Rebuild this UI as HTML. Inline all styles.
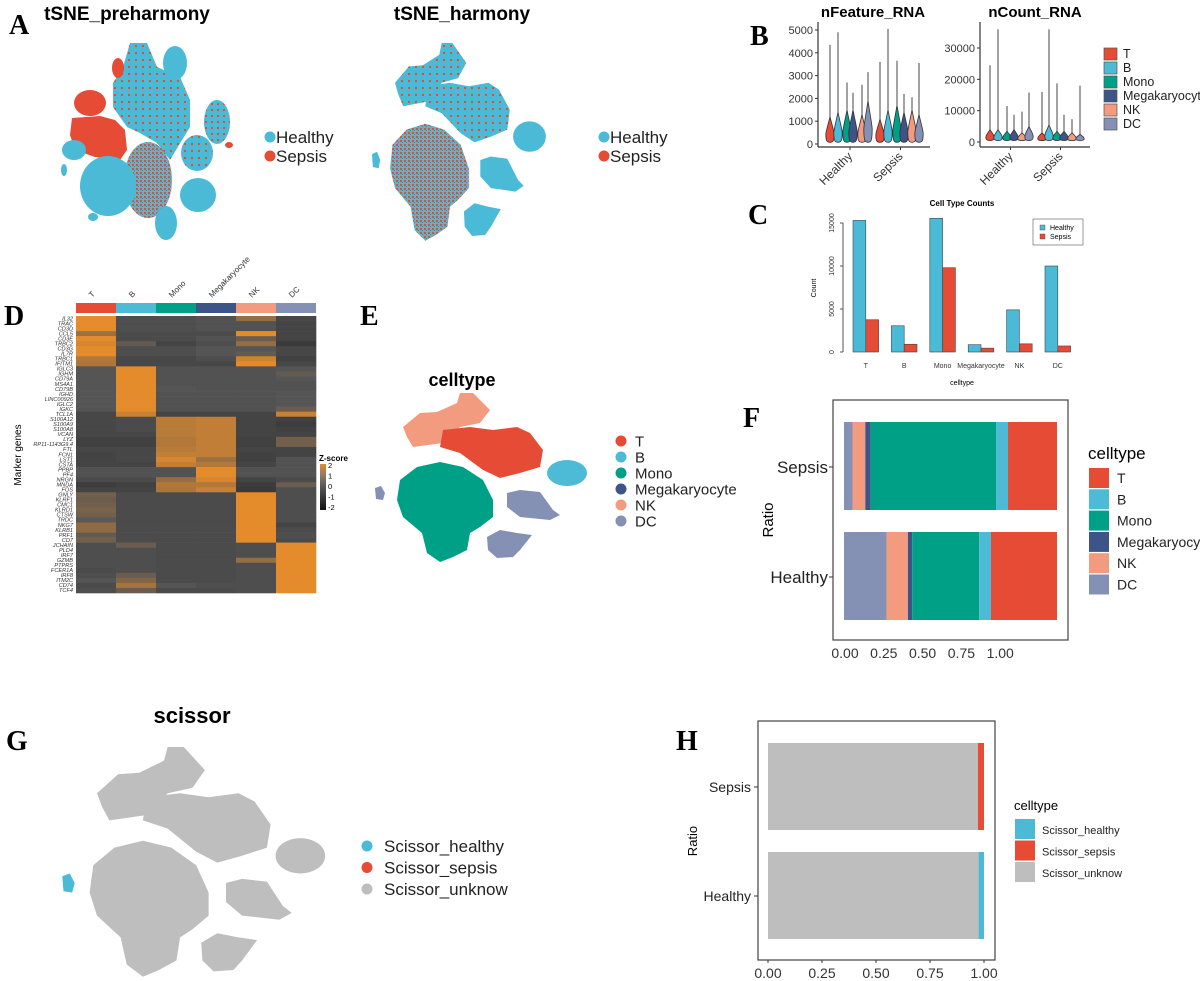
<!DOCTYPE html>
<html><head><meta charset="utf-8">
<style>
html,body{margin:0;padding:0;background:#fff;}
svg{display:block;font-family:"Liberation Sans",Arial,sans-serif;}
.let{font-family:"Liberation Serif",serif;font-weight:bold;font-size:28px;fill:#000;}
</style></head>
<body>
<svg id="fig" width="1200" height="981" viewBox="0 0 1200 981" xmlns="http://www.w3.org/2000/svg">
<defs>
<pattern id="mixA" width="6" height="6" patternUnits="userSpaceOnUse"><rect width="6" height="6" fill="#4bbad6"/><rect x="1" y="1" width="2" height="2" fill="#e64b35"/></pattern>
<pattern id="mixB" width="4" height="4" patternUnits="userSpaceOnUse"><rect width="4" height="4" fill="#4bbad6"/><rect x="0" y="0" width="2" height="2" fill="#e64b35"/><rect x="2" y="2" width="1" height="1" fill="#e64b35"/></pattern>
<pattern id="mixC" width="7" height="7" patternUnits="userSpaceOnUse"><rect width="7" height="7" fill="#4bbad6"/><rect x="2" y="3" width="2" height="2" fill="#e64b35"/></pattern>
</defs>
<g id="root"></g>
<text class="let" x="9" y="34">A</text>
<text class="let" x="750" y="45">B</text>
<text class="let" x="748" y="224">C</text>
<text class="let" x="4" y="325">D</text>
<text class="let" x="360" y="325">E</text>
<text class="let" x="743" y="427">F</text>
<text class="let" x="6" y="750">G</text>
<text class="let" x="676" y="750">H</text>
</svg>
<script>
// ---- Panel B data ----
const vGroups = ['Healthy','Sepsis'];
const vTypes = ['T','B','Mono','Megakaryocyte','NK','DC'];
const featMaxH = [4350,4900,2700,2250,2600,3150];
const featMaxS = [3600,5050,3650,2200,2050,3550];
const featBodyH = [1200,1400,1500,1500,1300,1900];
const featBodyS = [1100,1500,1700,1400,1500,1300];
const featTicks = [0,1000,2000,3000,4000,5000];
const countMaxH = [24500,36000,11500,8700,9700,15800];
const countMaxS = [16000,36000,18700,8700,7300,18000];
const countBodyH = [4000,4000,3500,4000,3000,5000];
const countBodyS = [3000,5500,3500,3500,3000,2500];
const countTicks = [0,10000,20000,30000];
// ---- Panel C data ----
const cCats = ['T','B','Mono','Megakaryocyte','NK','DC'];
const cHealthy = [15300,3050,15550,850,4900,10000];
const cSepsis = [3750,900,9800,450,950,700];
const cTicks = [0,5000,10000,15000];
// ---- Panel D data ----
const hmCols = ['T','B','Mono','Megakaryocyte','NK','DC'];
const hmGenes = ['IL32','TRAC','CD3D','CCL5','CD3E','TRBC2','CD3G','IL7R','TRBC1','IFITM1',
'IGLC3','IGHM','CD79A','MS4A1','CD79B','IGHD','LINC00926','IGLC2','IGKC','TCL1A',
'S100A12','S100A9','S100A8','VCAN','LYZ','RP11-1143G9.4','FTL','FCN1','LST1','CSTA',
'PPBP','PF4','NRGN','MNDA','FOS',
'GNLY','KLRF1','CMC1','KLRD1','CTSW','TRDC','NKG7','KLRB1','PRF1','CD7',
'JCHAIN','PLD4','IRF7','GZMB','PTPRS','FCER1A','IRF8','ITM2C','CD74','TCF4'];
const hmValues = [
[2,-0.2,-0.2,-0.1,0.9,-0.4],[2,-0.2,-0.2,-0.1,-0.1,-0.5],[2,-0.2,-0.2,-0.1,-0.1,-0.5],[1,-0.3,-0.3,-0.3,2,-0.5],[2,-0.3,-0.3,-0.1,0.3,-0.5],
[1.8,0.2,-0.5,-0.2,0.9,-0.8],[2,-0.2,-0.2,0,0,-0.4],[2,-0.2,-0.2,0,0.2,-0.4],[1.3,-0.4,-0.4,-0.2,1.7,-0.6],[1.2,-0.4,-0.4,-0.4,2,-0.4],
[0,2,-0.1,-0.1,-0.1,0],[0,2,-0.1,-0.1,-0.1,0.2],[0,2,-0.1,-0.1,-0.1,0],[0,2,-0.1,-0.1,-0.1,-0.1],[0,2,0,-0.1,-0.1,-0.1],
[0,2,-0.1,-0.1,-0.1,0],[0,2,-0.1,-0.1,-0.1,0],[0,2,-0.1,-0.1,-0.1,0],[0,2,-0.1,-0.1,-0.1,0.3],[-0.4,1.6,-0.5,-0.5,-0.5,1.6],
[-0.4,-0.3,1.4,1.5,-0.5,-0.6],[-0.4,-0.3,1.4,1.5,-0.5,-0.7],[-0.4,-0.3,1.4,1.5,-0.5,-0.6],[-0.4,-0.4,1.4,1.5,-0.5,-0.5],[-0.6,-0.6,1.3,1.5,-0.6,0.4],
[-0.6,-0.6,1.3,1.5,-0.6,0.4],[-0.4,-0.4,1.4,1.5,-0.5,-0.5],[-0.5,-0.4,1.5,1.5,-0.6,-0.5],[-0.5,-0.4,1.8,1.0,-0.6,-0.1],[-0.5,-0.5,1.5,1.3,-0.5,-0.1],
[-0.1,-0.1,-0.1,2,-0.1,-0.1],[-0.1,-0.1,-0.1,2,-0.1,-0.1],[-0.3,-0.3,0.9,1.8,-0.5,-0.3],[-0.7,-0.6,1.3,1.3,-0.7,0.3],[-0.5,-0.5,1.2,1.6,-0.8,-0.2],
[0.4,-0.3,-0.3,-0.3,2,-0.2],[0.3,-0.3,-0.3,-0.3,2,-0.2],[0.4,-0.3,-0.3,-0.3,2,-0.2],[0.5,-0.3,-0.3,-0.3,2,-0.2],[0.4,-0.3,-0.3,-0.3,2,-0.2],
[0.1,-0.3,-0.3,-0.3,2,-0.2],[0.8,-0.3,-0.3,-0.3,2,-0.5],[0.8,-0.3,-0.3,-0.3,2,-0.3],[0.2,-0.3,-0.3,-0.3,2,-0.2],[0.4,-0.3,-0.3,-0.3,2,-0.3],
[-0.2,0.3,-0.3,-0.3,-0.2,2],[-0.2,-0.2,-0.3,-0.3,-0.2,2],[-0.2,-0.2,-0.3,-0.3,-0.2,2],[-0.2,-0.2,-0.3,-0.3,0.9,2],[-0.2,-0.2,-0.3,-0.3,-0.2,2],
[-0.3,-0.2,-0.3,-0.3,-0.2,2],[-0.2,0.3,-0.3,-0.3,-0.2,2],[0,0.6,-0.3,-0.3,-0.2,2],[-0.3,1.1,0,-0.2,-0.2,2],[-0.2,0.3,-0.3,-0.3,-0.2,2]];
// ---- Panel F data ----
const fGroups = ['Sepsis','Healthy'];
const fOrder = ['DC','NK','Megakaryocyte','Mono','B','T'];
const fSepsis = [0.04,0.06,0.025,0.59,0.055,0.23];
const fHealthy = [0.20,0.10,0.02,0.315,0.055,0.31];
const fTickLabels = ['0.00','0.25','0.50','0.75','1.00'];
// ---- Panel H data ----
const hOrder = ['Scissor_unknow','Scissor_sepsis','Scissor_healthy'];
const hSepsis = [0.972,0.028,0];
const hHealthy = [0.975,0,0.025];
const hTicks = [0,0.25,0.5,0.75,1];

const COL = {T:'#e64b35',B:'#4dbbd5',Mono:'#00a087',Megakaryocyte:'#3c5488',NK:'#f39b7f',DC:'#8491b4'};
const NS='http://www.w3.org/2000/svg';
const root=document.getElementById('root');
function mk(tag,attrs,parent,txt){const e=document.createElementNS(NS,tag);for(const k in attrs)e.setAttribute(k,attrs[k]);if(txt!==undefined)e.textContent=txt;(parent||root).appendChild(e);return e;}
function grp(name){const g=mk('g',{});


return g;}

const shapesE = {
 NK:[[403,427],[420,413],[437,412],[457,403],[460,393],[473,393],[490,410],[480,423],[460,427],[443,443],[413,447],[407,437]],
 T:[[443,430],[470,427],[493,430],[517,427],[530,433],[543,450],[540,467],[520,473],[500,478],[483,470],[460,453],[440,447]],
 Mono:[[400,480],[417,467],[440,462],[463,467],[483,480],[493,500],[493,517],[480,527],[470,533],[467,550],[453,557],[440,562],[427,553],[422,533],[403,517],[397,500]],
 DC1:[[507,493],[520,490],[540,492],[553,510],[560,515],[550,520],[520,517],[507,507]],
 DC2:[[487,537],[500,530],[517,533],[532,535],[520,550],[513,557],[497,558],[488,550]],
 DC3:[[375,488],[381,486],[385,493],[383,500],[376,499]]
};
function tf(pts,ox,oy,sx,sy,tx,ty){return pts.map(p=>((p[0]-ox)*sx+tx).toFixed(1)+','+((p[1]-oy)*sy+ty).toFixed(1)).join(' ');}
function drawLayout(g,sx,sy,tx,ty,fills){
  for(const k of ['NK','T','Mono','DC1','DC2','DC3']){
    const p=mk('polygon',{points:tf(shapesE[k],403,393,sx,sy,tx,ty),fill:fills[k]},g);
    
    
  }
  const c=[567,473];
  const e=mk('ellipse',{cx:(c[0]-403)*sx+tx,cy:(c[1]-393)*sy+ty,rx:20*sx,ry:13*sy,fill:fills.B},g);
  
  
}
function legendDots(g,x,y0,step,items,size,dx){items.forEach((it,i)=>{mk('circle',{cx:x,cy:y0+i*step,r:5.5,fill:it[1]},g);mk('text',{x:x+(dx||12),y:y0+i*step+size*0.36,'font-size':size,fill:'#222'},g,it[0]);});}

(function(){
 const g=grp('tsne-preharmony');
 mk('text',{x:127,y:20,'font-size':19,'font-weight':'bold','text-anchor':'middle'},g,'tSNE_preharmony');
 mk('polygon',{points:'130,43 147,43 157,67 180,77 190,100 190,127 182,140 170,160 157,143 140,133 127,127 113,107 113,83 123,67',fill:'url(#mixC)'},g);
 mk('ellipse',{cx:175,cy:63,rx:12,ry:17,fill:'#4bbad6'},g);
 mk('ellipse',{cx:118,cy:68,rx:6,ry:10,fill:'#e64b35'},g);
 mk('ellipse',{cx:90,cy:103,rx:16,ry:13,fill:'#e64b35'},g);
 mk('polygon',{points:'72,118 100,116 115,120 125,130 127,150 120,160 95,157 75,150 70,135',fill:'#e64b35'},g);
 mk('ellipse',{cx:74,cy:150,rx:12,ry:10,fill:'#4bbad6'},g);
 mk('ellipse',{cx:148,cy:180,rx:24,ry:38,fill:'url(#mixB)'},g);
 mk('ellipse',{cx:108,cy:186,rx:28,ry:30,fill:'#4bbad6'},g);
 mk('ellipse',{cx:217,cy:122,rx:13,ry:22,fill:'url(#mixA)'},g);
 mk('ellipse',{cx:197,cy:153,rx:16,ry:18,fill:'url(#mixC)'},g);
 mk('ellipse',{cx:198,cy:195,rx:18,ry:17,fill:'#4bbad6'},g);
 mk('ellipse',{cx:166,cy:223,rx:11,ry:17,fill:'#4bbad6'},g);
 mk('ellipse',{cx:93,cy:217,rx:5,ry:4,fill:'#4bbad6'},g);
 mk('ellipse',{cx:64,cy:170,rx:3,ry:6,fill:'#4bbad6'},g);
 mk('ellipse',{cx:229,cy:145,rx:4,ry:3,fill:'#e64b35'},g);
 legendDots(g,270,137,19,[['Healthy','#4bbad6'],['Sepsis','#e64b35']],17,6);
})();
(function(){
 const g=grp('tsne-harmony');
 mk('text',{x:462,y:20,'font-size':19,'font-weight':'bold','text-anchor':'middle'},g,'tSNE_harmony');
 drawLayout(g,0.82,1.17,395,43,{NK:'url(#mixC)',T:'url(#mixC)',Mono:'url(#mixB)',DC1:'#4bbad6',DC2:'#4bbad6',DC3:'#4bbad6',B:'#4bbad6'});
 legendDots(g,604,137,19,[['Healthy','#4bbad6'],['Sepsis','#e64b35']],17,6);
})();
(function(){
 const g=grp('tsne-celltype');
 mk('text',{x:462,y:386,'font-size':18,'font-weight':'bold','text-anchor':'middle'},g,'celltype');
 drawLayout(g,1,1,403,393,{NK:COL.NK,T:COL.T,Mono:COL.Mono,DC1:COL.DC,DC2:COL.DC,DC3:COL.DC,B:COL.B});
 legendDots(g,621,441,16,vTypes.map(t=>[t,COL[t]]),15,14);
})();
(function(){
 const g=grp('tsne-scissor');
 mk('text',{x:192,y:723,'font-size':22,'font-weight':'bold','text-anchor':'middle'},g,'scissor');
 drawLayout(g,1.24,1.36,97,747,{NK:'#bebebe',T:'#bebebe',Mono:'#bebebe',DC1:'#bebebe',DC2:'#bebebe',DC3:'#4bbad6',B:'#bebebe'});
 legendDots(g,367,846,21.5,[['Scissor_healthy','#4bbad6'],['Scissor_sepsis','#e64b35'],['Scissor_unknow','#bebebe']],17,17);
})();

function violinPanel(name,title,titleX,axX,axR,yTop,yBase,maxV,ticks,maxH,maxS,bodyH,bodyS,offsH,offsS){
 const g=grp(name);
 const y=v=>yBase-v*(yBase-yTop)/maxV;
 mk('text',{x:titleX,y:17,'font-size':15,'font-weight':'bold','text-anchor':'middle'},g,title);
 mk('line',{x1:axX,y1:22,x2:axX,y2:147,stroke:'#333','stroke-width':1.2},g);
 mk('line',{x1:axX,y1:147,x2:axR,y2:147,stroke:'#333','stroke-width':1.2},g);
 ticks.forEach(t=>{mk('line',{x1:axX-3,y1:y(t),x2:axX,y2:y(t),stroke:'#333'},g);mk('text',{x:axX-5,y:y(t)+4,'font-size':11,'text-anchor':'end',fill:'#333'},g,String(t));});
 [[maxH,bodyH,offsH],[maxS,bodyS,offsS]].forEach((s,gi)=>{
  s[2].forEach((cx,i)=>{
   const w=4.2,top=y(s[1][i]),bot=y(maxV*0.015),mid=y(s[1][i]*0.35);
   mk('line',{x1:cx,y1:y(s[0][i]),x2:cx,y2:top,stroke:'#333','stroke-width':0.9},g);
   const p=mk('path',{d:`M${cx},${top} C${cx+w*0.5},${top+(mid-top)*0.5} ${cx+w},${mid-3} ${cx+w},${mid} C${cx+w},${bot-1} ${cx+w*0.7},${bot} ${cx},${bot} C${cx-w*0.7},${bot} ${cx-w},${bot-1} ${cx-w},${mid} C${cx-w},${mid-3} ${cx-w*0.5},${top+(mid-top)*0.5} ${cx},${top}Z`,fill:COL[vTypes[i]],stroke:'#333','stroke-width':0.8},g);
   
   
  });
  const gc=(s[2][2]+s[2][3])/2;
  mk('line',{x1:gc,y1:147,x2:gc,y2:150,stroke:'#333'},g);
  mk('text',{x:gc+3,y:157,'font-size':12,'text-anchor':'end',transform:`rotate(-45 ${gc+3} 157)`,fill:'#333'},g,vGroups[gi]);
 });
}
violinPanel('violin-nfeature','nFeature_RNA',873,818,930,30,144,5000,featTicks,featMaxH,featMaxS,featBodyH,featBodyS,[830,838,847,853,862,868],[880,888,897,904,912,919]);
violinPanel('violin-ncount','nCount_RNA',1035,980,1090,48,142,30000,countTicks,countMaxH,countMaxS,countBodyH,countBodyS,[990,998,1007,1014,1022,1029],[1042,1049,1057,1064,1072,1080]);
(function(){const g=grp('violin-legend');vTypes.forEach((t,i)=>{const r=mk('rect',{x:1104,y:48+i*14,width:13,height:12,fill:COL[t],stroke:'#555','stroke-width':0.7},g);


mk('text',{x:1123,y:58+i*14,'font-size':12.5,fill:'#222'},g,t);});})();

(function(){
 const g=grp('cell-type-counts');
 const y=v=>352-v*(352-223)/15000;
 mk('text',{x:962,y:206,'font-size':8,'font-weight':'bold','text-anchor':'middle'},g,'Cell Type Counts');
 mk('line',{x1:843,y1:y(0),x2:843,y2:y(15000),stroke:'#555'},g);
 cTicks.forEach(t=>{mk('line',{x1:840,y1:y(t),x2:843,y2:y(t),stroke:'#555'},g);mk('text',{x:834,y:y(t),'font-size':7,'text-anchor':'middle',transform:`rotate(-90 834 ${y(t)})`,fill:'#333'},g,String(t));});
 mk('text',{x:816,y:288,'font-size':7,'text-anchor':'middle',transform:'rotate(-90 816 288)'},g,'Count');
 cCats.forEach((c,i)=>{const x0=853+i*38.4;
  const b1=mk('rect',{x:x0,y:y(cHealthy[i]),width:12.8,height:y(0)-y(cHealthy[i]),fill:'#4bbad6',stroke:'#444','stroke-width':0.6},g);
  
  
  const b2=mk('rect',{x:x0+12.8,y:y(cSepsis[i]),width:12.8,height:y(0)-y(cSepsis[i]),fill:'#e64b35',stroke:'#444','stroke-width':0.6},g);
  
  
  mk('text',{x:x0+12.8,y:368,'font-size':7,'text-anchor':'middle',fill:'#333'},g,c);
 });
 mk('text',{x:962,y:385,'font-size':7,'text-anchor':'middle'},g,'celltype');
 mk('rect',{x:1033,y:219,width:50,height:26,fill:'#fff',stroke:'#555','stroke-width':0.6},g);
 mk('rect',{x:1040,y:225,width:5,height:5,fill:'#4bbad6',stroke:'#444','stroke-width':0.4},g);
 mk('text',{x:1050,y:230,'font-size':7},g,'Healthy');
 mk('rect',{x:1040,y:234,width:5,height:5,fill:'#e64b35',stroke:'#444','stroke-width':0.4},g);
 mk('text',{x:1050,y:239,'font-size':7},g,'Sepsis');
})();

(function(){
 const g=grp('marker-heatmap');
 const x0=76,cw=40,y0=316,rh=277/hmGenes.length;
 function col(v){v=Math.max(-2,Math.min(2,v));let a,b,t;
  if(v>=0){a=[85,85,85];b=[228,139,44];t=v/2;}else{a=[85,85,85];b=[17,17,17];t=-v/2;}
  return 'rgb('+a.map((c,i)=>Math.round(c+(b[i]-c)*t)).join(',')+')';}
 hmCols.forEach((c,j)=>{
  const r=mk('rect',{x:x0+j*cw,y:303,width:cw,height:10,fill:COL[c]},g);
  
  
  const cx=x0+j*cw+cw/2-4;
  mk('text',{x:cx,y:298,'font-size':8,transform:`rotate(-45 ${cx} 298)`,fill:'#333'},g,c);
 });
 hmGenes.forEach((gn,i)=>{
  hmValues[i].forEach((v,j)=>{mk('rect',{x:x0+j*cw,y:y0+i*rh,width:cw+0.3,height:rh+0.3,fill:col(v)},g);});
  mk('text',{x:73,y:y0+i*rh+rh*0.85,'font-size':5.6,'font-style':'italic','text-anchor':'end',fill:'#333'},g,gn);
 });
 mk('text',{x:21,y:455,'font-size':10,'text-anchor':'middle',transform:'rotate(-90 21 455)'},g,'Marker genes');
 mk('text',{x:319,y:461,'font-size':8,'font-weight':'bold'},g,'Z-score');
 const lg=mk('linearGradient',{id:'zg',x1:0,y1:0,x2:0,y2:1},g);
 [['0','#e48b2c'],['0.25','#8f7a66'],['0.5','#555'],['0.75','#333'],['1','#111']].forEach(s=>mk('stop',{offset:s[0],'stop-color':s[1]},lg));
 mk('rect',{x:320,y:464,width:6,height:46,fill:'url(#zg)'},g);
 ['2','1','0','-1','-2'].forEach((t,i)=>mk('text',{x:328,y:468+i*10.5,'font-size':7.5},g,t));
})();

(function(){
 const g=grp('celltype-ratio');
 const x=v=>844+v*213;
 mk('rect',{x:833,y:400,width:235,height:240,fill:'none',stroke:'#444','stroke-width':1.2},g);
 [[fSepsis,422,467],[fHealthy,532,577]].forEach((s,gi)=>{let acc=0;
  s[0].forEach((v,i)=>{const r=mk('rect',{x:x(acc),y:s[1],width:x(acc+v)-x(acc),height:88,fill:COL[fOrder[i]]},g);
   
   acc+=v;});
  mk('line',{x1:829,y1:s[2],x2:833,y2:s[2],stroke:'#333'},g);
  mk('text',{x:828,y:s[2]+6,'font-size':17,'text-anchor':'end',fill:'#222'},g,fGroups[gi]);
 });
 mk('text',{x:773,y:520,'font-size':15,'text-anchor':'middle',transform:'rotate(-90 773 520)'},g,'Ratio');
 fTickLabels.forEach((t,i)=>mk('text',{x:845+i*38.8,y:658,'font-size':14,'text-anchor':'middle',fill:'#333'},g,t));
 mk('text',{x:1088,y:459,'font-size':17},g,'celltype');
 vTypes.forEach((t,i)=>{const r=mk('rect',{x:1089,y:468+i*21.3,width:20,height:20,fill:COL[t]},g);
  
  
  mk('text',{x:1117,y:483+i*21.3,'font-size':14,fill:'#222'},g,t);});
})();

(function(){
 const g=grp('scissor-ratio');
 const x=v=>768+v*216;
 const hc={'Scissor_unknow':'#bebebe','Scissor_sepsis':'#e64b35','Scissor_healthy':'#4bbad6'};
 mk('rect',{x:758,y:721,width:237,height:239,fill:'none',stroke:'#444','stroke-width':1.2},g);
 [[hSepsis,743,787,'Sepsis'],[hHealthy,852,896,'Healthy']].forEach(s=>{let acc=0;
  s[0].forEach((v,i)=>{if(v>0){const r=mk('rect',{x:x(acc),y:s[1],width:x(acc+v)-x(acc),height:87,fill:hc[hOrder[i]]},g);
   
   }acc+=v;});
  mk('line',{x1:754,y1:s[2],x2:758,y2:s[2],stroke:'#333'},g);
  mk('text',{x:751,y:s[2]+5,'font-size':14,'text-anchor':'end',fill:'#222'},g,s[3]);
 });
 mk('text',{x:697,y:841,'font-size':13,'text-anchor':'middle',transform:'rotate(-90 697 841)'},g,'Ratio');
 hTicks.forEach(t=>{mk('line',{x1:x(t),y1:960,x2:x(t),y2:963,stroke:'#333'},g);mk('text',{x:x(t),y:978,'font-size':14,'text-anchor':'middle',fill:'#333'},g,t.toFixed(2));});
 mk('text',{x:1014,y:810,'font-size':13},g,'celltype');
 [['Scissor_healthy','#4bbad6'],['Scissor_sepsis','#e64b35'],['Scissor_unknow','#bebebe']].forEach((e,i)=>{
  const r=mk('rect',{x:1015,y:819+i*21.5,width:20,height:20,fill:e[1]},g);
  
  
  mk('text',{x:1042,y:834+i*21.5,'font-size':11,fill:'#222'},g,e[0]);});
})();
</script>
</body></html>
